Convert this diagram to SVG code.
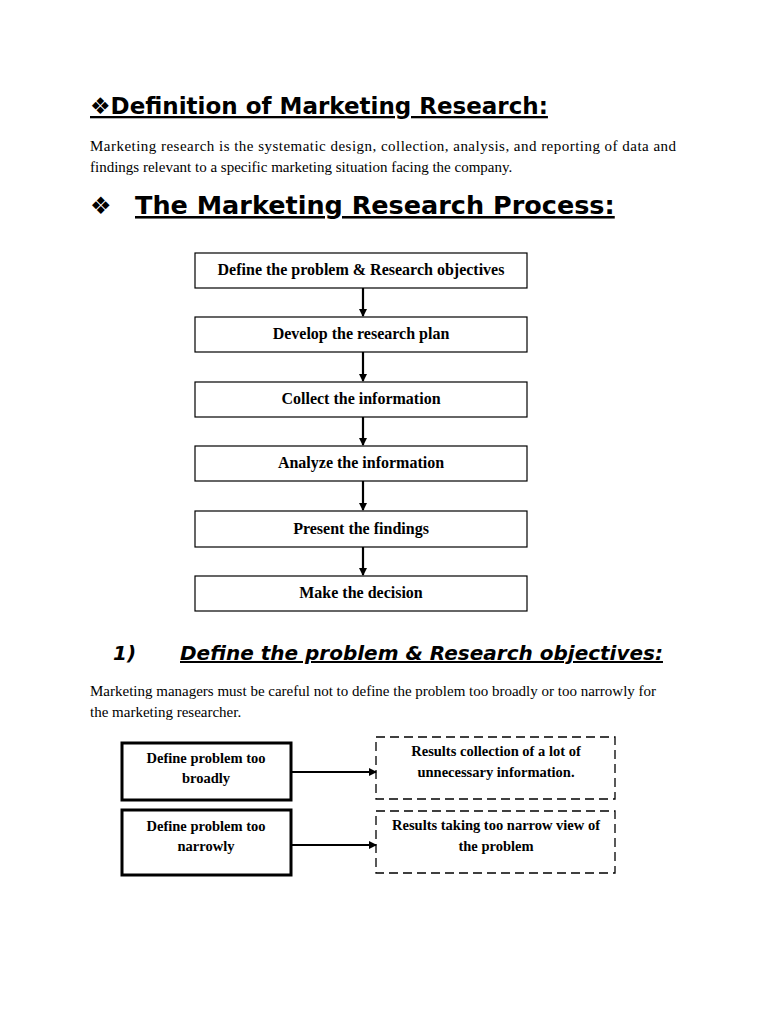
<svg xmlns="http://www.w3.org/2000/svg" width="768" height="1024" viewBox="0 0 768 1024">
<style>
.h{font-family:"DejaVu Sans",sans-serif;font-weight:bold;text-decoration:underline}
.p{font-family:"Liberation Serif",serif;font-size:15px}
.b{font-family:"Liberation Serif",serif;font-size:16px;font-weight:bold;text-anchor:middle}
.s{font-family:"Liberation Serif",serif;font-size:14.5px;font-weight:bold;text-anchor:middle}
.box{fill:#fff;stroke:#000;stroke-width:1.2}
.tb{fill:#fff;stroke:#000;stroke-width:3}
.db{fill:#fff;stroke:#000;stroke-width:1.3;stroke-dasharray:9,5}
.c{stroke:#000;stroke-width:2.2;fill:none}
</style>
<defs><marker id="a" markerWidth="8" markerHeight="8" refX="7" refY="4" orient="auto" markerUnits="userSpaceOnUse"><path d="M0,0L8,4L0,8z"/></marker></defs>
<rect width="768" height="1024" fill="#fff"/>
<text x="90" y="114" class="h" font-size="23">❖Definition of  Marketing Research:</text>
<text x="90" y="151" class="p" textLength="586" lengthAdjust="spacing">Marketing research is the systematic design, collection, analysis, and reporting of data and</text>
<text x="90" y="172" class="p">findings relevant to a specific marketing situation facing the company.</text>
<text x="90" y="214" font-family="DejaVu Sans,sans-serif" font-size="24" font-weight="bold">❖</text>
<text x="135" y="214" class="h" font-size="25.5">The Marketing Research Process:</text>
<g id="n1"><rect class="box" x="195" y="253" width="332" height="35"/><text class="b" x="361" y="275">Define the problem &amp; Research objectives</text></g>
<g id="n2"><rect class="box" x="195" y="317" width="332" height="35"/><text class="b" x="361" y="339">Develop the research plan</text></g>
<g id="n3"><rect class="box" x="195" y="382" width="332" height="35"/><text class="b" x="361" y="404">Collect the information</text></g>
<g id="n4"><rect class="box" x="195" y="446" width="332" height="35"/><text class="b" x="361" y="468">Analyze the information</text></g>
<g id="n5"><rect class="box" x="195" y="511" width="332" height="36"/><text class="b" x="361" y="534">Present the findings</text></g>
<g id="n6"><rect class="box" x="195" y="576" width="332" height="35"/><text class="b" x="361" y="598">Make the decision</text></g>
<text x="113" y="660" font-family="DejaVu Sans,sans-serif" font-size="20" font-weight="bold" font-style="italic">1)</text>
<text x="180" y="660" class="h" font-size="20" font-style="italic">Define the problem &amp; Research objectives:</text>
<text x="90" y="696" class="p">Marketing managers must be careful not to define the problem too broadly or too narrowly for</text>
<text x="90" y="717" class="p">the marketing researcher.</text>
<g id="l1"><rect class="tb" x="122" y="743" width="169" height="57"/><text class="s" x="206" y="763">Define problem too</text><text class="s" x="206" y="783">broadly</text></g>
<g id="l2"><rect class="tb" x="122" y="810" width="169" height="65"/><text class="s" x="206" y="831">Define problem too</text><text class="s" x="206" y="851">narrowly</text></g>
<g id="r1"><rect class="db" x="376" y="737" width="239" height="62"/><text class="s" x="496" y="756">Results collection of a lot of</text><text class="s" x="496" y="777">unnecessary information.</text></g>
<g id="r2"><rect class="db" x="376" y="811" width="239" height="62"/><text class="s" x="496" y="830">Results taking too narrow view of</text><text class="s" x="496" y="851">the problem</text></g>
<g id="connectors">
<line class="c" x1="363" y1="288" x2="363" y2="316" marker-end="url(#a)"/>
<line class="c" x1="363" y1="352" x2="363" y2="381" marker-end="url(#a)"/>
<line class="c" x1="363" y1="417" x2="363" y2="445" marker-end="url(#a)"/>
<line class="c" x1="363" y1="481" x2="363" y2="510" marker-end="url(#a)"/>
<line class="c" x1="363" y1="547" x2="363" y2="575" marker-end="url(#a)"/>
<line class="c" x1="291" y1="772" x2="376" y2="772" marker-end="url(#a)"/>
<line class="c" x1="291" y1="845" x2="376" y2="845" marker-end="url(#a)"/>
</g>
</svg>
